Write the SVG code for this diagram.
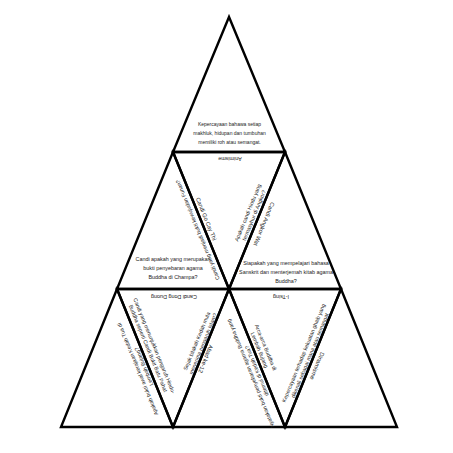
<svg xmlns="http://www.w3.org/2000/svg" width="453" height="453" viewBox="0 0 453 453">
<style>
.tri{fill:none;stroke:#000;stroke-width:2.4;stroke-linejoin:miter}
text{font-family:"Liberation Sans",Arial,sans-serif;fill:#1a1a1a;text-anchor:middle;dominant-baseline:central}
.t{font-size:5px}
.q{font-size:5.4px}
.a{font-size:5.8px}
</style>
<rect width="453" height="453" fill="#fff"/>
<g id="t1">
<polygon class="tri" points="229,17 173,152 285,152"/>
<text class="t" x="229.5" y="124">Kepercayaan bahawa setiap</text>
<text class="t" x="229.5" y="133">makhluk, hidupan dan tumbuhan</text>
<text class="t" x="229.5" y="142">memiliki roh atau semangat.</text>
</g>
<g id="t2">
<polygon class="tri" points="173,152 117,289 229,289"/>
<text class="q" x="173" y="259">Candi apakah yang merupakan</text>
<text class="q" x="173" y="268">bukti penyebaran agama</text>
<text class="q" x="173" y="277">Buddha di Champa?</text>
<text class="q" transform="translate(197.5,230) rotate(-112.2)">Candi yang menjadi bukti kewujudan Funan?</text>
</g>
<g id="t3">
<polygon class="tri" points="173,152 285,152 229,289"/>
<text class="q" transform="translate(230,159) rotate(180)">Animisme</text>
<text class="a" transform="translate(206.2,219) rotate(67.8)">Candi Go Cay Thi</text>
<text class="q" transform="translate(250.8,213.9) rotate(-67.8)"><tspan x="0" y="-3.4">Apakah candi Hindu yang</tspan><tspan x="0" y="3.4">termasyhur di Angkor?</tspan></text>
</g>
<g id="t4">
<polygon class="tri" points="285,152 229,289 341,289"/>
<text class="a" transform="translate(264,224) rotate(112.2)">Candi Angkor Wat</text>
<text class="q" x="286" y="263">Siapakah yang mempelajari bahasa</text>
<text class="q" x="286" y="272">Sanskrit dan menterjemah kitab agama</text>
<text class="q" x="286" y="281">Buddha?</text>
</g>
<g id="t5">
<polygon class="tri" points="117,289 61,427 173,427"/>
<text class="q" transform="translate(140.7,367.9) rotate(-112.2)"><tspan x="0" y="-3.4">Apakah bukti awal kerajaan Kedah Tua di</tspan><tspan x="0" y="3.4">Lembah Bujang?</tspan></text>
</g>
<g id="t6">
<polygon class="tri" points="117,289 229,289 173,427"/>
<text class="q" transform="translate(174,297) rotate(180)">Candi Dong Duong</text>
<text class="q" transform="translate(151.3,347) rotate(67.8)"><tspan x="0" y="-3.4">Candi yang menunjukkan pengaruh Hindu-</tspan><tspan x="0" y="3.4">Buddha seperti Candi Bukit Batu Pahat</tspan></text>
<text class="q" transform="translate(199.8,342.4) rotate(-67.8)"><tspan x="0" y="-3.4">Sejak bilakah Kedah mula</tspan><tspan x="0" y="3.4">menerima pengaruh Islam?</tspan></text>
</g>
<g id="t7">
<polygon class="tri" points="229,289 173,427 285,427"/>
<text class="a" transform="translate(205.7,359) rotate(112.2)">Abad ke-12</text>
<text class="q" transform="translate(253.6,372.2) rotate(-112.2)"><tspan x="0" y="-3.4">Nyatakan bukti penyebaran agama Buddha yang</tspan><tspan x="0" y="3.4">ditemui di Kedah Tua?</tspan></text>
</g>
<g id="t8">
<polygon class="tri" points="229,289 341,289 285,427"/>
<text class="q" transform="translate(281,297) rotate(180)">I-Tsing</text>
<text class="q" transform="translate(262.7,348.7) rotate(67.8)"><tspan x="0" y="-3.4">Arca-arca Buddha di</tspan><tspan x="0" y="3.4">Lembah Bujang</tspan></text>
<text class="q" transform="translate(306.6,354.2) rotate(-67.8)"><tspan x="0" y="-3.4">Kepercayaan terhadap kekuatan ghaib yang</tspan><tspan x="0" y="3.4">dikenali sebagai mana atau semangat</tspan></text>
</g>
<g id="t9">
<polygon class="tri" points="341,289 285,427 397,427"/>
<text class="a" transform="translate(317,366) rotate(112.2)">Dinamisme</text>
</g>
<g id="connectors"/>
</svg>
